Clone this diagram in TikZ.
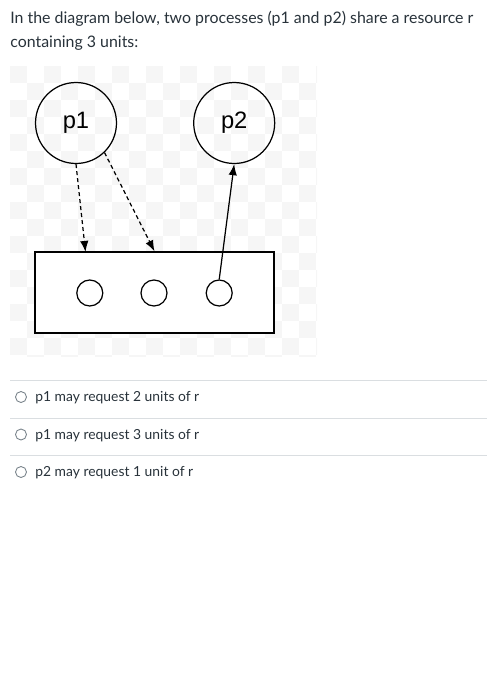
\documentclass[tikz,border=0pt]{standalone}
\usepackage{fontspec}
\setmainfont{Lato}
\newfontfamily\diafont{Liberation Sans}
\usetikzlibrary{positioning}
\usetikzlibrary{arrows.meta}
\definecolor{inktext}{RGB}{40,50,58}
\definecolor{rulegray}{RGB}{218,222,225}
\definecolor{radiogray}{RGB}{120,130,138}
\definecolor{checkgray}{RGB}{246,246,246}

\begin{document}
\begin{tikzpicture}[x=0.02cm,y=-0.02cm,
    proc/.style = {draw, circle, minimum size=1.62cm, inner sep=0pt, line width=0.7pt, font=\diafont\fontsize{13.5}{15}\selectfont},
    unit/.style = {draw, circle, minimum size=0.52cm, inner sep=0pt, line width=0.7pt},
    res/.style = {draw, fill=white, rectangle, minimum width=4.78cm, minimum height=1.62cm, line width=0.7pt},
    radio/.style = {draw=radiogray, circle, minimum size=0.22cm, inner sep=0pt, line width=0.5pt},
    choice/.style = {anchor=base west, inner sep=0pt, text=inktext, font=\fontsize{7.9}{9.5}\selectfont},
    request/.style = {-{Latex[length=6.3pt,width=4.8pt]}, dash pattern=on 2.3pt off 1.7pt, line width=0.7pt},
    assign/.style = {-{Latex[length=6.3pt,width=4.8pt]}, line width=0.7pt}]
  \useasboundingbox (0,0) rectangle (500,700);
  % faint checkered background
  \begin{scope}
    \clip (10,66) rectangle (317,356);
    \foreach \i in {0,...,18}
      \foreach \j in {0,...,8}
        {\pgfmathtruncatemacro{\k}{2*\j+mod(\i,2)}
         \fill[checkgray] (10+17*\i,66+17*\k) rectangle ++(17,17);}
  \end{scope}
  % question
  \node[anchor=base west, inner sep=0pt, text=inktext, font=\fontsize{9.05}{13.6}\selectfont] (q1) at (10,23) {In the diagram below, two processes (p1 and p2) share a resource r};
  \node[anchor=base west, inner sep=0pt, text=inktext, font=\fontsize{9.05}{13.6}\selectfont] (q2) at (10,47) {containing 3 units:};
  % processes and resource
  \node[proc] (p1) at (76,123) {p1};
  \node[proc, right=1.52cm of p1] (p2) {p2};
  \node[res] (r) at (154.5,292.5) {};
  \node[unit] (u2) at (154,293) {};
  \node[unit, left=0.74cm of u2] (u1) {};
  \node[unit, right=0.76cm of u2] (u3) {};
  \coordinate (t1) at (85.5,252);
  \draw[request] (p1.south) -- (t1);
  \draw[request] (p1.-46) -- (r.north);
  \draw[assign] (u3.north) -- (p2.south);
  % answers
  \foreach \y/\z in {380/s1,418/s2,455/s3}
    \draw[rulegray, line width=0.5pt] (10,\y) coordinate (\z) -- (487,\y);
  \node[radio] (o1) at (21,397) {};
  \node[radio] (o2) at (21,434.5) {};
  \node[radio] (o3) at (21,472) {};
  \node[choice] (a1) at (35,401.5) {p1 may request 2 units of r};
  \node[choice] (a2) at (35,439) {p1 may request 3 units of r};
  \node[choice] (a3) at (35,476.5) {p2 may request 1 unit of r};
\end{tikzpicture}
\end{document}
